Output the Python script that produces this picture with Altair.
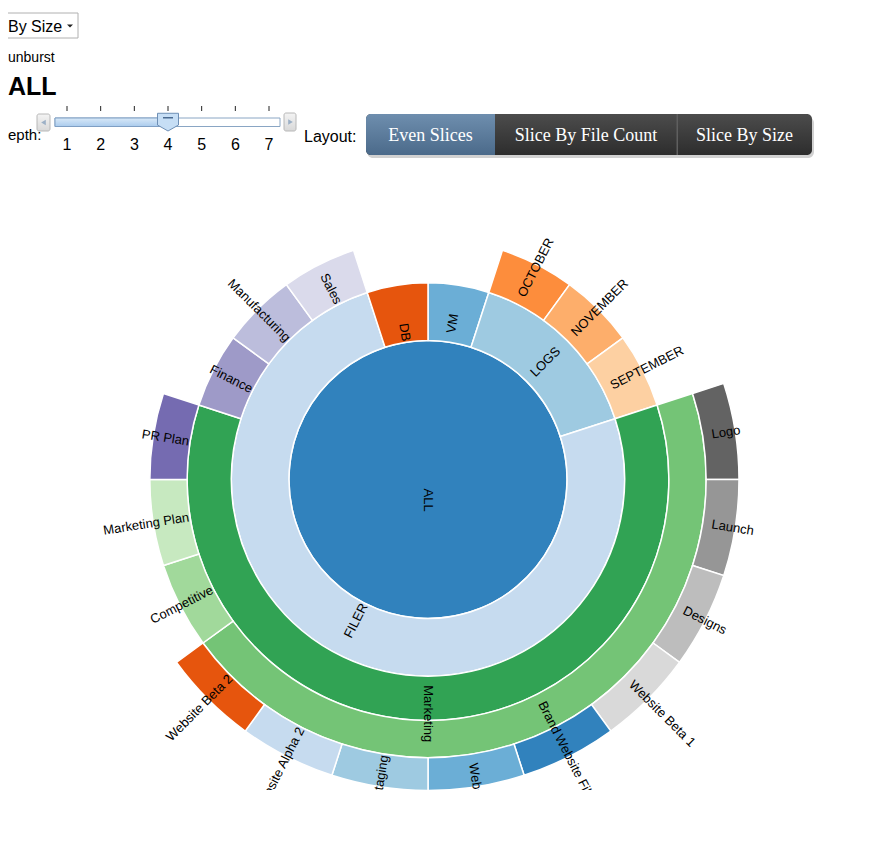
import math
import altair as alt
import pandas as pd

# ---------------- data ----------------
names = ["ALL", "VM", "LOGS", "FILER", "DB",
         "OCTOBER", "NOVEMBER", "SEPTEMBER",
         "Marketing", "Brand", "Competitive", "Marketing Plan", "PR Plan",
         "Finance", "Manufacturing", "Sales",
         "Logo", "Launch", "Designs", "Website Beta 1", "Website Files",
         "Website", "Staging", "Website Alpha 2", "Website Beta 2"]
parents = ["", "ALL", "ALL", "ALL", "ALL",
           "LOGS", "LOGS", "LOGS",
           "FILER", "Marketing", "Marketing", "Marketing", "Marketing",
           "FILER", "FILER", "FILER",
           "Brand", "Brand", "Brand", "Brand", "Brand",
           "Brand", "Brand", "Brand", "Brand"]
depth_levels = [1, 2, 3, 4, 5, 6, 7]
layout_options = ["Even Slices", "Slice By File Count", "Slice By Size"]

# ---------------- partition layout (even slices: one unit per leaf) ----------------
children = {n: [] for n in names}
for n, p in zip(names, parents):
    if p:
        children[p].append(n)


def leaf_count(n):
    return 1 if not children[n] else sum(leaf_count(c) for c in children[n])


TOTAL = leaf_count("ALL")
rows = []


def place(n, start, depth):
    span = leaf_count(n)
    mid_deg = (start + span / 2) / TOTAL * 360
    right = mid_deg <= 180
    rows.append({"name": n, "t0": start, "t1": start + span, "tm": start + span / 2,
                 "r0": depth, "r1": depth + 1,
                 "angle": ((mid_deg - 90) if right else (mid_deg + 90)) % 360,
                 "side": "right" if right else "left"})
    s = start
    for c in children[n]:
        place(c, s, depth + 1)
        s += leaf_count(c)


place("ALL", 0, 0)
nodes = pd.DataFrame(rows)
MAXD = int(nodes["r1"].max())

CX, CY = 420, 471.5
theta_scale = alt.Scale(domain=[0, TOTAL], range=[0, 2 * math.pi])
radius_scale = alt.Scale(type="sqrt", domain=[0, MAXD], range=[0, 311])

arcs = alt.Chart(nodes).mark_arc(stroke="white", strokeWidth=1.5, clip=True).encode(
    x=alt.value(CX), y=alt.value(CY),
    theta=alt.Theta("t0:Q", scale=theta_scale, stack=False),
    theta2="t1:Q",
    radius=alt.Radius("r1:Q", scale=radius_scale),
    radius2="r0:Q",
    color=alt.Color("name:N", scale=alt.Scale(domain=names, scheme="category20c"), legend=None),
)


def ring_labels(side, align, off):
    return alt.Chart(nodes).transform_filter(alt.datum.side == side).mark_text(
        align=align, baseline="middle", font="Liberation Sans", fontSize=13,
        color="black", radiusOffset=off, clip=True
    ).encode(
        x=alt.value(CX), y=alt.value(CY),
        theta=alt.Theta("tm:Q", scale=theta_scale, stack=False),
        radius=alt.Radius("r0:Q", scale=radius_scale),
        angle=alt.Angle("angle:Q", scale=None),
        text="name:N",
    )


labels_right = ring_labels("right", "left", 9)
labels_left = ring_labels("left", "right", 1)

# ---------------- UI controls ----------------
one = pd.DataFrame({"k": [0]})


def rect(x, x2, y, y2, **kw):
    return alt.Chart(one).mark_rect(**kw).encode(
        x=alt.value(x), x2=alt.value(x2), y=alt.value(y), y2=alt.value(y2))


def label(txt, x, y, **kw):
    base = dict(font="Liberation Sans", baseline="alphabetic", align="left", color="black")
    base.update(kw)
    return alt.Chart(one).mark_text(text=txt, **base).encode(x=alt.value(x), y=alt.value(y))


def symbol(shape, x, y, size, color, **kw):
    return alt.Chart(one).mark_point(shape=shape, size=size, filled=True, color=color,
                                     opacity=1, **kw).encode(x=alt.value(x), y=alt.value(y))


def grad(c1, c2):
    return alt.LinearGradient(gradient="linear",
                              stops=[alt.GradientStop(color=c1, offset=0),
                                     alt.GradientStop(color=c2, offset=1)],
                              x1=0, x2=0, y1=0, y2=1)


ui = []
# dropdown
ui.append(rect(-5, 70, 5, 30, fill="white", stroke="#b0b0b0", strokeWidth=1))
ui.append(label("By Size", 0, 24, fontSize=16))
ui.append(symbol("M-1,-0.5L1,-0.5L0,0.5Z", 62, 18, 36, "#222"))
# titles
ui.append(label("unburst", 0, 53.7, fontSize=14))
ui.append(label("ALL", 0, 87, fontSize=25, fontWeight="bold"))
# depth slider
ui.append(label("epth:", 0, 132, fontSize=15))
ui.append(rect(29, 42, 106, 123, color=grad("#f4f4f4", "#d8d8d8"), stroke="#b8b8b8",
               strokeWidth=1, cornerRadius=2))
ui.append(symbol("triangle-left", 35.5, 114.5, 28, "#9cb0c6"))
ui.append(rect(276, 288, 105, 123, color=grad("#f4f4f4", "#d8d8d8"), stroke="#b8b8b8",
               strokeWidth=1, cornerRadius=2))
ui.append(symbol("triangle-right", 282.5, 114, 28, "#9cb0c6"))
ui.append(rect(47, 272, 110, 118.5, fill="white", stroke="#8aa6c4", strokeWidth=1))
ui.append(rect(47, 160, 110, 118.5, color=grad("#d9e9f8", "#aacbed"), stroke="#7f9fc4",
               strokeWidth=1))
ui.append(symbol("M-1,-0.86L1,-0.86L1,0.26L0,0.83L-1,0.26Z", 160, 114.3, 441, "#c6def5",
                 stroke="#6e8fb5", strokeWidth=1))
ui.append(rect(155, 165, 109, 110.5, fill="#4a6a90"))

tick_df = pd.DataFrame({"d": depth_levels})
slider_x = alt.X("d:Q", scale=alt.Scale(domain=[depth_levels[0], depth_levels[-1]], range=[59, 261]),
                 axis=None)
ui.append(alt.Chart(tick_df).mark_rule(color="#222", strokeWidth=1).encode(
    x=slider_x, y=alt.value(98), y2=alt.value(103)))
ui.append(alt.Chart(tick_df).mark_text(font="Liberation Sans", fontSize=16, baseline="alphabetic",
                                       color="black").encode(
    x=slider_x, y=alt.value(142), text="d:N"))

# layout buttons
ui.append(label("Layout:", 296, 133.7, fontSize=16))
ui.append(rect(359, 806, 109, 150, fill="#000", opacity=0.18, cornerRadius=6))
ui.append(rect(358, 804, 106, 147, color=grad("#4c4c4c", "#2d2d2d"), cornerRadius=5))
ui.append(rect(358, 487, 106, 147, color=grad("#6e8eae", "#4b6a8a"),
               cornerRadiusTopLeft=5, cornerRadiusBottomLeft=5))
ui.append(rect(668.5, 670, 106, 147, fill="#5f5f5f"))
bounds = [358, 487, 669, 804]
for i, opt in enumerate(layout_options):
    cx = (bounds[i] + bounds[i + 1]) / 2
    ui.append(label(opt, cx, 133, fontSize=18, font="Liberation Serif", align="center",
                    color="white"))

chart = alt.layer(*ui, arcs, labels_right, labels_left).properties(
    width=878, height=782, autosize=alt.AutoSizeParams(type="none"), padding=0
).configure_view(strokeWidth=0)

chart.save("out.html", embed_options={"renderer": "svg", "actions": False})
